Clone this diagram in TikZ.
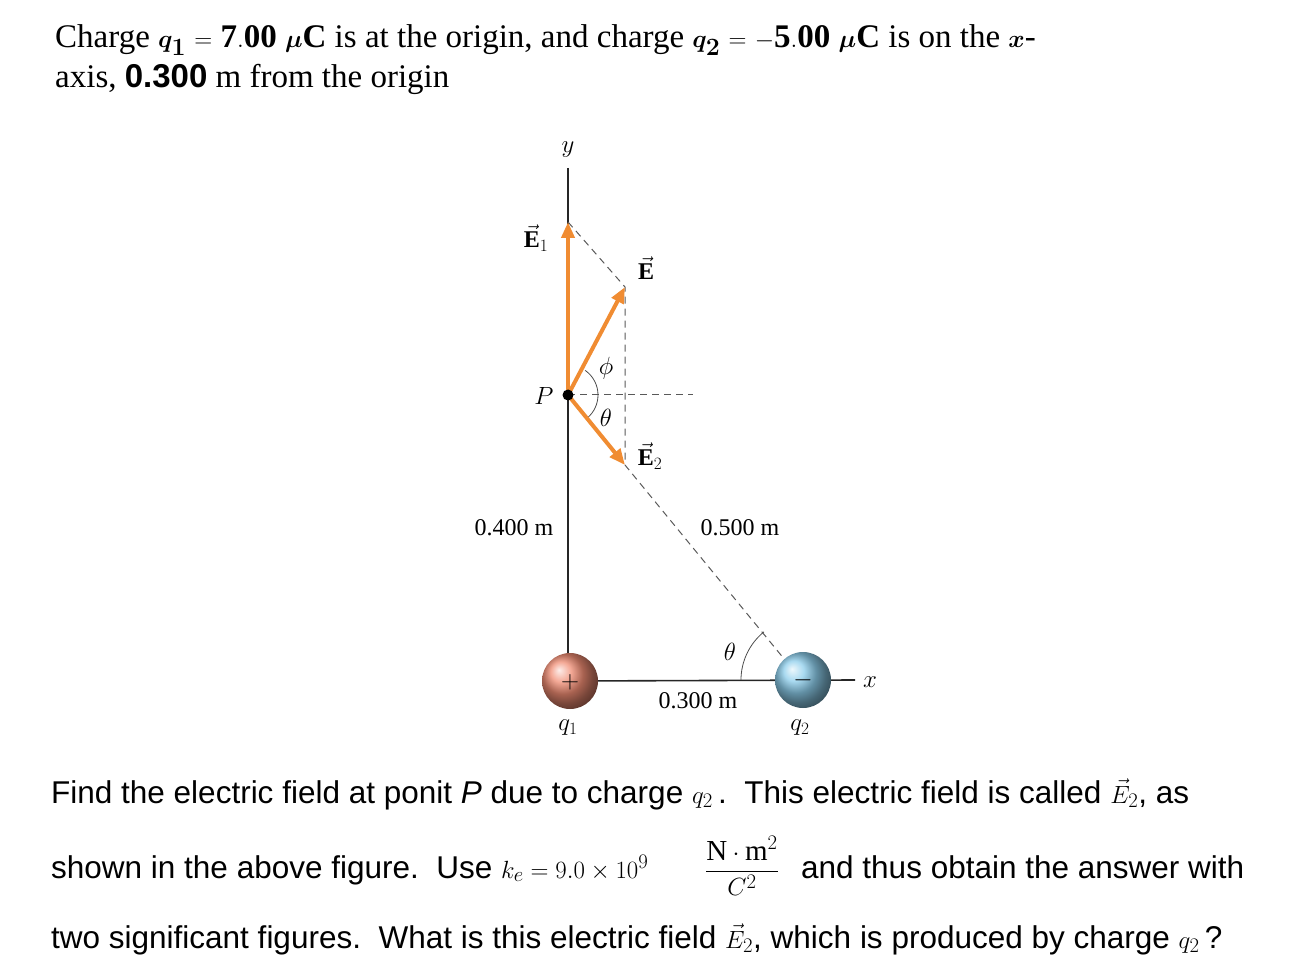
\documentclass[tikz,border=0pt]{standalone}
\usepackage{fontspec}
\usepackage{amsmath}
\setmainfont{Liberation Serif}
\newfontfamily\arialf{Liberation Sans}
\usetikzlibrary{arrows.meta,calc}
\definecolor{org}{RGB}{240,140,50}
\definecolor{redb}{RGB}{240,140,115}
\definecolor{blueb}{RGB}{140,205,235}
\tikzset{
  vec/.style={org,line width=4pt,-{Triangle[length=16pt,width=13pt]}},
  dsh/.style={dashed,dash pattern=on 7pt off 5pt,gray!70!black,line width=1pt},
  axis/.style={black!85,line width=1.6pt},
  lab/.style={font=\fontsize{24}{26}\selectfont},
  ptxt/.style={anchor=base west,font=\arialf\fontsize{31.5}{34}\selectfont,inner sep=0},
  ttxt/.style={anchor=base west,font=\fontsize{33}{36}\selectfont,inner sep=0}
}
\begin{document}
\begin{tikzpicture}[x=1pt,y=-1pt]
\useasboundingbox (0,0) rectangle (1294,976);
\node[ttxt] (t1) at (55,48) {Charge $\boldsymbol{q_1}$ $=$ $\mathbf{7.00}\ \boldsymbol{\mu}\mathbf{C}$ is at the origin, and charge $\boldsymbol{q_2}$ $=$ $\mathbf{-5.00}\ \boldsymbol{\mu}\mathbf{C}$ is on the $\boldsymbol{x}$-};
\node[ttxt] (t2) at (55,88) {axis, \textbf{\arialf 0.300} m from the origin};
% geometry
\coordinate (P) at (568,395);
\coordinate (ytop) at (568,168);
\coordinate (E1t) at (568,222);
\coordinate (Et) at (625,287);
\coordinate (E2t) at (625,465);
\coordinate (hend) at (693,395);
\coordinate (hq) at (785,660);
\coordinate (xend) at (855,680);
\draw[axis] (ytop) -- (568,655);
\draw[axis] (570,681) -- (xend);
\draw[dsh] (E1t) -- (Et) -- (E2t) -- (hq);
\draw[dsh] (P) -- (hend);
\draw[gray!60!black,line width=0.8pt] ($(P)+(30,0)$) arc[start angle=0,end angle=-55,radius=30];
\draw[gray!60!black,line width=0.8pt] ($(P)+(30,0)$) arc[start angle=0,end angle=50,radius=30];
\draw[gray!60!black,line width=0.8pt] (741,680) arc[start angle=180,end angle=231,radius=62];
\draw[vec] (P) -- (E1t);
\draw[vec] (P) -- (Et);
\draw[vec] (P) -- (E2t);
\fill (P) circle (5.5);
\shade[ball color=redb] (570,681) circle (28);
\shade[ball color=blueb] (803,680) circle (28);
\node[lab] (pl) at (570,682) {$+$};
\node[lab] (ml) at (803,680) {$-$};
% labels
\node[lab] (y) at (568,150) {$y$};
\node[lab] (x) at (870,682) {$x$};
\node[lab] (E1l) at (536,238) {$\vec{\mathbf{E}}_1$};
\node[lab] (El) at (646,268) {$\vec{\mathbf{E}}$};
\node[lab] (E2l) at (650,456) {$\vec{\mathbf{E}}_2$};
\node[lab] (Pl) at (544,396) {$P$};
\node[lab] (phl) at (606,368) {$\phi$};
\node[lab] (thl) at (606,418) {$\theta$};
\node[lab] (th2) at (730,652) {$\theta$};
\node[lab] (d4) at (514,528) {0.400 m};
\node[lab] (d5) at (740,528) {0.500 m};
\node[lab] (d3) at (698,701) {0.300 m};
\node[lab] (q1l) at (568,728) {$q_1$};
\node[lab] (q2l) at (800,728) {$q_2$};
% bottom text
\node[ptxt] (b1) at (51,803) {Find the electric field at ponit \textit{P} due to charge {\rmfamily$q_2$}\,.\ \ This electric field is called {\rmfamily$\vec{E}_2$}, as};
\node[ptxt] (b2) at (51,878) {shown in the above figure.\ \ Use {\rmfamily$k_e=9.0\times10^9$}};
\node[font=\fontsize{29}{32}\selectfont,inner sep=0] (fr) at (742,866) {$\dfrac{\mathrm{N\cdot m}^2}{C^2}$};
\node[ptxt] (b2b) at (801,878) {and thus obtain the answer with};
\node[ptxt] (b3) at (51,948) {two significant figures.\ \ What is this electric field {\rmfamily$\vec{E}_2$}, which is produced by charge {\rmfamily$q_2$}\,?};
\end{tikzpicture}
\end{document}
